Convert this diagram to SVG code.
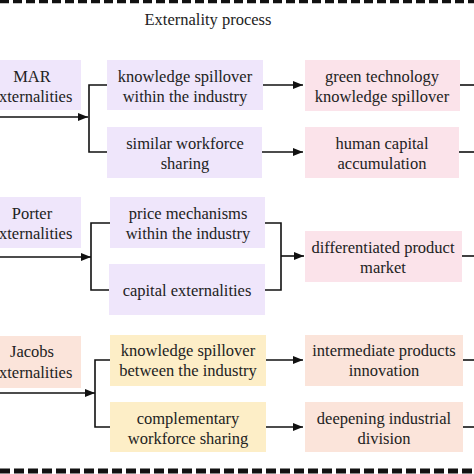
<svg xmlns="http://www.w3.org/2000/svg" width="474" height="474" viewBox="0 0 474 474">
<defs>
<marker id="ah" viewBox="0 0 10 8" refX="10" refY="4" markerWidth="10" markerHeight="8" markerUnits="userSpaceOnUse" orient="auto">
<path d="M0,0 L10,4 L0,8 Z" fill="#111"/>
</marker>
<style>
text{font-family:"Liberation Serif","Times New Roman",serif;font-size:16.5px;fill:#222;text-anchor:middle}
.lav{fill:#efe6fb}
.pink{fill:#fbe3ea}
.peach{fill:#fbe4da}
.yel{fill:#fdeec7}
.ln{stroke:#111;stroke-width:1.6;fill:none}
.ar{stroke:#111;stroke-width:1.6;fill:none;marker-end:url(#ah)}
.dash{stroke:#111;fill:none}
</style>
</defs>
<rect x="0" y="0" width="474" height="474" fill="#fff"/>
<line class="dash" x1="0" y1="1.5" x2="474" y2="1.5" stroke-width="3.5" stroke-dasharray="9,4"/>
<line class="dash" x1="0" y1="471" x2="474" y2="471" stroke-width="5" stroke-dasharray="10,4"/>
<text x="208" y="25">Externality process</text>

<g id="mar"><rect class="lav" x="-20" y="60" width="101" height="50"/><text x="32" y="81.5">MAR</text><text x="32" y="101.5">externalities</text></g>
<g id="ks_within"><rect class="lav" x="107" y="60" width="156" height="50"/><text x="185" y="81.5">knowledge spillover</text><text x="185" y="101.5">within the industry</text></g>
<g id="swf"><rect class="lav" x="107" y="127" width="155" height="51"/><text x="185" y="148.5">similar workforce</text><text x="185" y="168.5">sharing</text></g>
<g id="green"><rect class="pink" x="305" y="60" width="155" height="51"/><text x="382" y="81.5">green technology</text><text x="382" y="101.5">knowledge spillover</text></g>
<g id="hca"><rect class="pink" x="305" y="127" width="154" height="51"/><text x="382" y="148.5">human capital</text><text x="382" y="168.5">accumulation</text></g>

<g id="porter"><rect class="lav" x="-20" y="197" width="101" height="51"/><text x="32" y="218.5">Porter</text><text x="32" y="238.5">externalities</text></g>
<g id="price"><rect class="lav" x="110" y="197" width="155" height="51"/><text x="188" y="218.5">price mechanisms</text><text x="188" y="238.5">within the industry</text></g>
<g id="capext"><rect class="lav" x="109" y="264" width="156" height="51"/><text x="187" y="295.5">capital externalities</text></g>
<g id="diff"><rect class="pink" x="305" y="231" width="157" height="51"/><text x="383" y="252.5">differentiated product</text><text x="383" y="272.5">market</text></g>

<g id="jacobs"><rect class="peach" x="-20" y="336" width="101" height="52"/><text x="32" y="356.5">Jacobs</text><text x="32" y="377.5">externalities</text></g>
<g id="ks_between"><rect class="yel" x="110" y="335" width="156" height="51"/><text x="188" y="355.5">knowledge spillover</text><text x="188" y="375.5">between the industry</text></g>
<g id="cwf"><rect class="yel" x="110" y="402" width="156" height="50"/><text x="188" y="423.5">complementary</text><text x="188" y="443.5">workforce sharing</text></g>
<g id="inter"><rect class="peach" x="305" y="335" width="158" height="51"/><text x="384" y="355.5">intermediate products</text><text x="384" y="375.5">innovation</text></g>
<g id="deep"><rect class="peach" x="305" y="402" width="158" height="50"/><text x="384" y="423.5">deepening industrial</text><text x="384" y="443.5">division</text></g>

<g id="connectors">
<line class="ar" x1="0" y1="117" x2="88" y2="117"/>
<path class="ln" d="M107,85 H89 V152 H107"/>
<line class="ar" x1="263" y1="85" x2="303" y2="85"/>
<line class="ar" x1="262" y1="152" x2="303" y2="152"/>
<line class="ln" x1="460" y1="85" x2="474" y2="85"/>
<line class="ln" x1="459" y1="152" x2="474" y2="152"/>

<line class="ar" x1="0" y1="257" x2="91" y2="257"/>
<path class="ln" d="M110,223 H91 V290 H109"/>
<path class="ln" d="M265,223 H281 V290 H265"/>
<line class="ar" x1="281" y1="256" x2="304" y2="256"/>
<line class="ln" x1="462" y1="256" x2="474" y2="256"/>

<line class="ar" x1="0" y1="393" x2="95" y2="393"/>
<path class="ln" d="M110,360 H95 V427 H110"/>
<line class="ar" x1="266" y1="360" x2="303" y2="360"/>
<line class="ar" x1="266" y1="427" x2="303" y2="427"/>
<line class="ln" x1="463" y1="360" x2="474" y2="360"/>
<line class="ln" x1="463" y1="427" x2="474" y2="427"/>
</g>
</svg>
